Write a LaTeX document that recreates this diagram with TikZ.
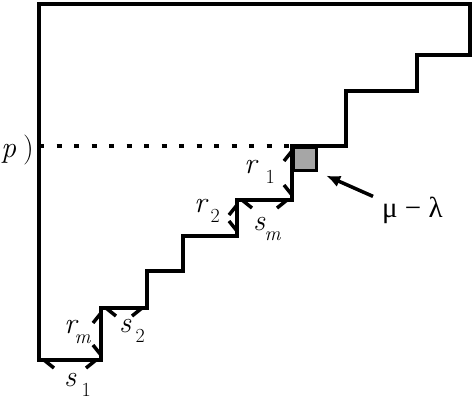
\documentclass[tikz,border=0pt]{standalone}
\usepackage{fontspec}
\newfontfamily\greekfont{Liberation Serif}
\usetikzlibrary{arrows.meta}

% letter with a lowered index
\newcommand{\steplbl}[2]{\textit{#1}\raisebox{-10pt}{\fontsize{20}{22}\selectfont#2}}

\begin{document}
\begin{tikzpicture}[
    x=1pt, y=1pt,
    edge/.style={line width=3.5pt, line join=miter},
    barbs/.style={line width=3.5pt},
    rarrow/.style={barbs, {Straight Barb[harpoon,swap,length=10pt,width=16pt]}-{Straight Barb[harpoon,length=10pt,width=16pt]}},
    sarrow/.style={barbs, {Straight Barb[harpoon,length=10pt,width=16pt]}-{Straight Barb[harpoon,swap,length=10pt,width=16pt]}},
    cellbox/.style={rectangle, draw=black, line width=3pt, fill=black!35, minimum width=23pt, minimum height=23pt, inner sep=0pt},
    steplabel/.style={anchor=base west, inner sep=0pt, font=\fontsize{30}{34}\selectfont},
    pointer/.style={-{Latex[length=14pt,width=12pt]}, line width=3.5pt, shorten >=9pt},
    dotline/.style={line width=3.5pt, dash pattern=on 5pt off 12.5pt},
]
\useasboundingbox (0,0) rectangle (474,400);

% corners of the staircase
\coordinate (bl) at (39,40);
\coordinate (tl) at (39,396);
\coordinate (tr) at (470,396);
\coordinate (c1) at (470,345);
\coordinate (c2) at (417,345);
\coordinate (c3) at (417,309);
\coordinate (c4) at (346,309);
\coordinate (c5) at (346,254);
\coordinate (rtop) at (292,254);
\coordinate (rbot) at (292,200);
\coordinate (q1) at (237,200);
\coordinate (q2) at (237,164);
\coordinate (q3) at (183,164);
\coordinate (q4) at (183,129);
\coordinate (q5) at (147,129);
\coordinate (q6) at (147,92);
\coordinate (q7) at (101,92);
\coordinate (q8) at (101,40);
\coordinate (wall) at (39,254);

\node[cellbox] (cell) at (305,241) {};

\draw[dotline] (wall) -- (rtop);
\draw[edge] (bl) -- (tl) -- (tr) -- (c1) -- (c2) -- (c3) -- (c4) -- (c5) -- (rtop)
    -- (rbot) -- (q1) -- (q2) -- (q3) -- (q4) -- (q5) -- (q6) -- (q7) -- (q8) -- cycle;

% r and s segments
\draw[sarrow] (bl) -- (q8);
\draw[rarrow] (q8) -- (q7);
\draw[sarrow] (q7) -- (q6);
\draw[rarrow] (q2) -- (q1);
\draw[sarrow] (q1) -- (rbot);
\draw[rarrow] (rbot) -- (rtop);

\node[steplabel] (r1) at (244,227) {\steplbl{r}{\hspace{7pt}1}};
\node[steplabel] (r2) at (194,188) {\steplbl{r}{\hspace{2pt}2}};
\node[steplabel] (rm) at (64,67) {\steplbl{r}{\hspace{-4pt}\textit{m}}};
\node[steplabel] (s1) at (64,14) {\steplbl{s}{\hspace{5pt}1}};
\node[steplabel] (s2) at (119,68) {\steplbl{s}{\hspace{4pt}2}};
\node[steplabel] (sm) at (253,170) {\steplbl{s}{\hspace{-1pt}\textit{m}}};
\node[steplabel] (plabel) at (1,243) {\textit{p}\hspace{7pt})};

\node[anchor=base west, inner sep=0pt, font=\greekfont\fontsize{29}{32}\selectfont] (mulam) at (382,183) {μ − λ};
\draw[pointer] ([xshift=-9pt]mulam.north west) -- (cell.south east);

\end{tikzpicture}
\end{document}
